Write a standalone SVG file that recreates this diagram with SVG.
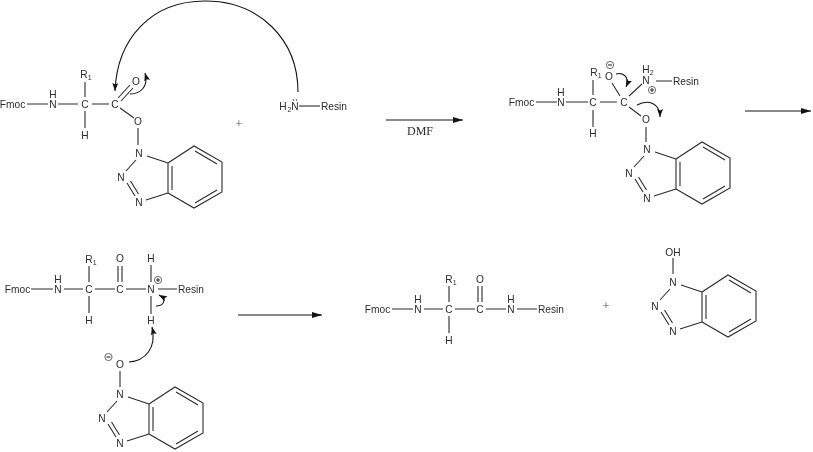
<svg xmlns="http://www.w3.org/2000/svg" width="813" height="452" viewBox="0 0 813 452">
<style>
#all{opacity:.99}
text{font-family:"Liberation Sans",Arial,sans-serif;font-size:10.200px;fill:#2a2a2a;text-anchor:middle}
text.s,tspan.s{font-size:7px}
text.t{font-family:"Liberation Serif","Times New Roman",serif}
text.p{font-size:13px;fill:#555}
text.d{font-size:12px}
path.b{fill:none;stroke:#2a2a2a;stroke-width:1.100}
path.a{fill:none;stroke:#111;stroke-width:1.100}
path.r{fill:none;stroke:#111;stroke-width:1.200}
circle.c{fill:none;stroke:#2a2a2a;stroke-width:.7}
</style>
<defs>
<marker id="h" markerUnits="userSpaceOnUse" markerWidth="10" markerHeight="8" refX="8" refY="3" orient="auto"><path d="M0,0L8,3L0,6L1.500,3Z" fill="#111"/></marker>
<marker id="R" markerUnits="userSpaceOnUse" markerWidth="12" markerHeight="8" refX="10" refY="3" orient="auto"><path d="M0,0L10,3L0,6Z" fill="#111"/></marker>
<g id="minus"><circle class="c" r="3.600"/><path class="b" d="M-2,0H2"/></g>
<g id="plus"><circle class="c" r="3.600"/><path class="b" d="M-2,0H2M0,-2V2"/></g>
<path id="ring" class="b" d="M8,3L29,10M-3,7L-13,18M-12,30L-4,43M-8.500,28L-.5,41M7,47L29,40M29,10V40M33,13V37M29,10L55,-7L83,9V39L55,55L29,40M56,-2L78,11M78,37L56,50"/>
</defs>
<g id="all">
<g id="connectors">
<path class="a" marker-end="url(#h)" d="M298,92C298,40 260,1 205,1C150,1 117,40 115,91"/>
<path class="a" marker-end="url(#h)" d="M130,94C140,94 149,87 145,73"/>
<path class="r" marker-end="url(#R)" d="M386,120H463"/>
<path class="a" marker-end="url(#h)" d="M616,74C624,72 630,78 626,87"/>
<path class="a" marker-end="url(#h)" d="M637,105C648,99 660,103 660,117"/>
<path class="r" marker-end="url(#R)" d="M745,111H811"/>
<path class="a" marker-end="url(#h)" d="M156,306C163,306 168,300 159,295"/>
<path class="a" marker-end="url(#h)" d="M129,362C145,361 157,348 152,327"/>
<path class="r" marker-end="url(#R)" d="M238,315H322"/>
</g>
<g id="activated-ester">
<path class="b" d="M27,104H48M58,104H78M85,82V97M85,111V128M92,104H109M118,98L130,85M121,101L133,88M120,108L134,118M138,128V145"/>
<text x="12.500" y="107.500">Fmoc</text><text x="53" y="107.500">N</text><text x="53" y="98">H</text><text x="85" y="107.500">C</text>
<text x="86" y="78">R<tspan class="s" dy="2">1</tspan></text><text x="85" y="138.500">H</text><text x="115" y="107.500">C</text><text x="136" y="85">O</text><text x="138" y="124.500">O</text>
<g transform="translate(139,153)"><use href="#ring"/><text y="3.500">N</text><text x="-18" y="27.500">N</text><text y="52.500">N</text></g>
</g>
<g id="amine-resin">
<path class="b" d="M299,106H320"/>
<text x="283" y="110">H</text><text class="s" x="289.500" y="112">2</text><text x="295" y="110">N</text>
<circle cx="293.500" cy="100" r=".7" fill="#222"/><circle cx="296.500" cy="100" r=".7" fill="#222"/>
<text x="334" y="110">Resin</text>
</g>
<text id="plus-1" class="t p" x="239" y="128">+</text>
<text id="dmf" class="t d" x="420" y="135">DMF</text>
<g id="tetrahedral-intermediate">
<path class="b" d="M536,102H557M566,102H588M593,80V95M593,110V127M600,102H617M620,96L612,83M629,96L642,84M656,81H672M629,107L641,116M646,127V142"/>
<text x="521.500" y="105.500">Fmoc</text><text x="561" y="105.500">N</text><text x="561" y="96">H</text><text x="593" y="105.500">C</text>
<text x="596" y="75.500">R<tspan class="s" dy="2">1</tspan></text><text x="593" y="136.500">H</text><text x="624" y="105.500">C</text><text x="609" y="79.500">O</text>
<text x="646" y="84">N</text><text x="648" y="73">H<tspan class="s" dy="2">2</tspan></text><text x="686" y="84.500">Resin</text><text x="646" y="122.500">O</text>
<use href="#minus" x="610" y="65"/><use href="#plus" x="652" y="90"/>
<g transform="translate(647,149)"><use href="#ring"/><text y="3.500">N</text><text x="-18" y="27.500">N</text><text y="52.500">N</text></g>
</g>
<g id="protonated-amide">
<path class="b" d="M31,289H53M64,289H83M89,266V282M89,296V313M95,289H115M118,266V282M122,266V282M126,289H146M151,265V282M151,296V314M158,289H177"/>
<text x="17.500" y="292.500">Fmoc</text><text x="58" y="292.500">N</text><text x="58" y="283">H</text><text x="89" y="292.500">C</text>
<text x="91" y="262.500">R<tspan class="s" dy="2">1</tspan></text><text x="89" y="323.500">H</text><text x="120" y="292.500">C</text><text x="120" y="262">O</text>
<text x="151" y="292.500">N</text><text x="151" y="261.500">H</text><text x="151" y="323.500">H</text><text x="191" y="292.500">Resin</text>
<use href="#plus" x="158" y="280"/>
</g>
<g id="obt-anion">
<path class="b" d="M120,371V387"/>
<text x="120" y="367.500">O</text><use href="#minus" x="108.500" y="357"/>
<g transform="translate(120,394)"><use href="#ring"/><text y="3.500">N</text><text x="-18" y="27.500">N</text><text y="52.500">N</text></g>
</g>
<g id="amide-product">
<path class="b" d="M392,309H413M424,309H443M449,286V302M449,316V333M455,309H475M478,286V302M482,286V302M486,309H506M517,309H537"/>
<text x="377.500" y="312.500">Fmoc</text><text x="418" y="312.500">N</text><text x="418" y="303">H</text><text x="449" y="312.500">C</text>
<text x="451" y="282.500">R<tspan class="s" dy="2">1</tspan></text><text x="449" y="343.500">H</text><text x="480" y="312.500">C</text><text x="480" y="282.500">O</text>
<text x="511" y="312.500">N</text><text x="511" y="303">H</text><text x="551" y="312.500">Resin</text>
</g>
<text id="plus-2" class="t p" x="606" y="310">+</text>
<g id="hobt">
<path class="b" d="M673,258V274"/>
<text x="673" y="255.500">OH</text>
<g transform="translate(673,282)"><use href="#ring"/><text y="3.500">N</text><text x="-18" y="27.500">N</text><text y="52.500">N</text></g>
</g>
</g>
</svg>
